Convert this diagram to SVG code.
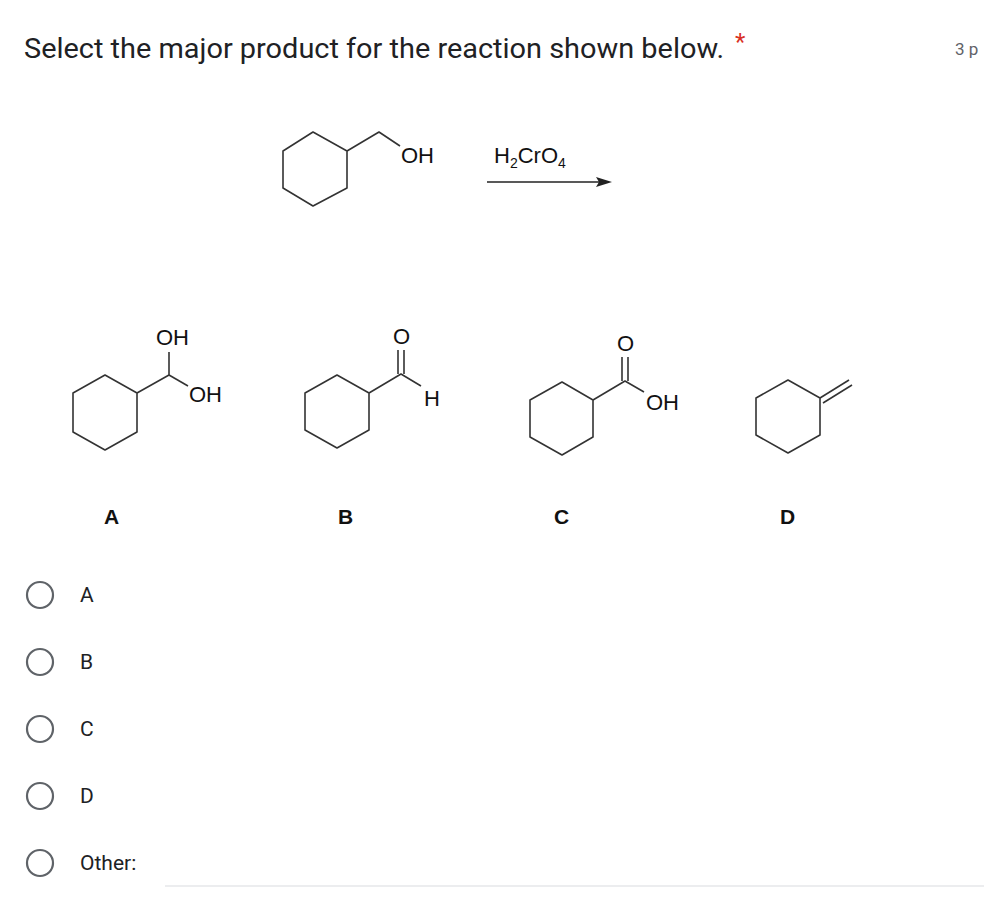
<svg xmlns="http://www.w3.org/2000/svg" width="984" height="922" viewBox="0 0 984 922">
<style>
.b{fill:none;stroke:#333;stroke-width:1.6;stroke-linejoin:round}
.m{font-family:"Liberation Sans",Arial,sans-serif;font-size:22px;fill:#111}
.l{font-family:"Liberation Sans",Arial,sans-serif;font-size:21px;font-weight:bold;fill:#111}
.r{fill:none;stroke:#5f6368;stroke-width:2.2}
.o{font-family:Roboto,"Liberation Sans",sans-serif;font-size:21px;fill:#202124}
</style>
<rect width="984" height="922" fill="#fff"/>
<text x="24" y="58" font-family="Roboto,'Liberation Sans',sans-serif" font-size="27" fill="#202124" textLength="700" lengthAdjust="spacingAndGlyphs">Select the major product for the reaction shown below.</text>
<text x="735" y="50" font-family="Roboto,'Liberation Sans',sans-serif" font-size="24" fill="#d93025">*</text>
<text x="955" y="55" font-family="Roboto,'Liberation Sans',sans-serif" font-size="17" fill="#5f6368">3 p</text>
<g id="reactant">
<polygon class="b" points="313,132 347,151 347,188 313,206 283,188 283,151"/>
<polyline class="b" points="347,151 379,132 400,146"/>
<text class="m" x="401" y="163">OH</text>
</g>
<g id="reagent">
<text class="m" x="494" y="163">H<tspan font-size="14" dy="5">2</tspan><tspan dy="-5">CrO</tspan><tspan font-size="14" dy="5">4</tspan></text>
</g>
<g id="connectors">
<line x1="487" y1="182" x2="600" y2="182" stroke="#222" stroke-width="1.5"/>
<polygon points="612,182 596,177 599,182 596,187" fill="#222"/>
</g>
<g id="A">
<polygon class="b" points="105,375 137,393 137,432 105,450 73,432 73,393"/>
<polyline class="b" points="137,393 169,375 169,352"/>
<line class="b" x1="169" y1="375" x2="188" y2="386"/>
<text class="m" x="156" y="345">OH</text>
<text class="m" x="189" y="402">OH</text>
<text class="l" x="104" y="524">A</text>
</g>
<g id="B">
<polygon class="b" points="337,375 369,393 369,430 337,448 305,430 305,393"/>
<polyline class="b" points="369,393 401,374 421,386"/>
<line class="b" x1="398" y1="374" x2="398" y2="350"/>
<line class="b" x1="404" y1="374" x2="404" y2="350"/>
<text class="m" x="393" y="344">O</text>
<text class="m" x="424" y="406">H</text>
<text class="l" x="338" y="524">B</text>
</g>
<g id="C">
<polygon class="b" points="562,382 593,400 593,437 562,455 530,437 530,400"/>
<polyline class="b" points="593,400 625,381 644,392"/>
<line class="b" x1="622" y1="381" x2="622" y2="357"/>
<line class="b" x1="628" y1="381" x2="628" y2="357"/>
<text class="m" x="617" y="351">O</text>
<text class="m" x="646" y="410">OH</text>
<text class="l" x="554" y="524">C</text>
</g>
<g id="D">
<polygon class="b" points="788,380 820,398 820,435 788,453 756,435 756,398"/>
<line class="b" x1="820" y1="398" x2="849" y2="380"/>
<line class="b" x1="823" y1="403" x2="852" y2="385"/>
<text class="l" x="780" y="524">D</text>
</g>
<g id="options">
<circle class="r" cx="40" cy="595" r="13"/><text class="o" x="80" y="602">A</text>
<circle class="r" cx="40" cy="662" r="13"/><text class="o" x="80" y="669">B</text>
<circle class="r" cx="40" cy="729" r="13"/><text class="o" x="80" y="736">C</text>
<circle class="r" cx="40" cy="796" r="13"/><text class="o" x="80" y="803">D</text>
<circle class="r" cx="40" cy="863" r="13"/><text class="o" x="80" y="870">Other:</text>
<line x1="165" y1="886" x2="984" y2="886" stroke="#dadce0" stroke-width="1.2"/>
</g>
</svg>
